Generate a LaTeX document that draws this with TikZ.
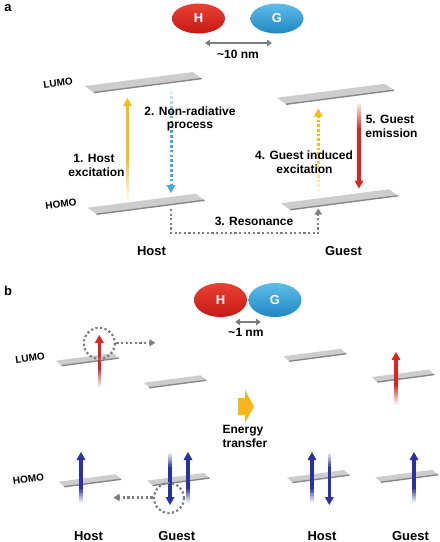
\documentclass[tikz,border=0pt]{standalone}
\usepackage{fontspec}
\setmainfont{Liberation Sans}
\usetikzlibrary{shapes.geometric,arrows.meta,calc}
\definecolor{platefill}{RGB}{205,205,205}
\definecolor{plateedge}{RGB}{135,135,135}
\definecolor{hyel}{RGB}{250,188,20}
\definecolor{lblue}{RGB}{70,170,220}
\definecolor{ered}{RGB}{225,35,30}
\definecolor{dblue}{RGB}{40,50,165}
\definecolor{dgray}{RGB}{125,125,125}
\definecolor{hred}{RGB}{195,25,20}
\definecolor{hredtop}{RGB}{235,65,52}
\definecolor{gblue}{RGB}{30,135,195}
\definecolor{gbluetop}{RGB}{95,188,232}
\definecolor{barrow}{RGB}{248,182,30}

\newcommand\myplate[7]{% name, cx, cy, lx, ly, sx, sy
  \coordinate (#1) at (#2,#3);
  \fill[platefill] ($(#1)-0.5*(#4,#5)-0.5*(#6,#7)$) -- ($(#1)+0.5*(#4,#5)-0.5*(#6,#7)$)
     -- ($(#1)+0.5*(#4,#5)+0.5*(#6,#7)$) -- ($(#1)-0.5*(#4,#5)+0.5*(#6,#7)$) -- cycle;
  \draw[plateedge, line width=1.4pt] ($(#1)-0.5*(#4,#5)+0.5*(#6,#7)$) -- ($(#1)+0.5*(#4,#5)+0.5*(#6,#7)$);
}
\newcommand\solidarrow[5]{% x, ytail, ytip, color, fade fraction
  \pgfmathsetmacro\myHB{#3+8*sign(#2-#3)}
  \foreach \i in {0,...,29}{
    \pgfmathsetmacro\myYA{#2+(\myHB-#2)*\i/30}
    \pgfmathsetmacro\myYB{#2+(\myHB-#2)*(\i+1.3)/30}
    \pgfmathsetmacro\myPP{min(100,(\i+0.5)/(30*#5)*100)}
    \fill[#4!\myPP!white] (#1-1.6,\myYA) rectangle (#1+1.6,\myYB);
  }
  \fill[#4] (#1,#3) -- (#1-4.5,\myHB) -- (#1+4.5,\myHB) -- cycle;
}
\newcommand\dotarrow[6]{% x, ytail, ytip, color, fade fraction, ndots
  \pgfmathsetmacro\myHB{#3+8*sign(#2-#3)}
  \foreach \i in {0,...,#6}{
    \pgfmathsetmacro\myYA{#2+(\myHB-#2)*\i/#6}
    \pgfmathsetmacro\myPP{min(100,(\i+0.5)/((#6+1)*#5)*100)}
    \fill[#4!\myPP!white] (#1-1.5,\myYA-1.3) rectangle (#1+1.5,\myYA+1.3);
  }
  \fill[#4] (#1,#3) -- (#1-4.5,\myHB) -- (#1+4.5,\myHB) -- cycle;
}

\tikzset{
  lab/.style={font=\fontsize{12}{14}\selectfont\bfseries, inner sep=0pt, anchor=base},
  big/.style={font=\fontsize{13}{15}\selectfont\bfseries, inner sep=0pt, anchor=base},
  orb/.style={font=\fontsize{10}{12}\selectfont\bfseries, inner sep=0pt, rotate=7},
  mol/.style={ellipse, inner sep=0pt, minimum width=53pt, minimum height=30pt,
     text=white, font=\fontsize{13}{15}\selectfont\bfseries},
  hmol/.style={mol, top color=hredtop, bottom color=hred},
  gmol/.style={mol, top color=gbluetop, bottom color=gblue},
  darr/.style={dgray, line width=1.5pt, {Triangle[length=5pt,width=6.5pt]}-{Triangle[length=5pt,width=6.5pt]}},
  graydot/.style={dgray, line width=2.2pt, dash pattern=on 2.2pt off 2.4pt},
  graytip/.style={-{Triangle[length=6pt,width=7pt]}}
}

\begin{document}
\begin{tikzpicture}[x=1pt,y=-1pt]
\fill[white] (0,0) rectangle (440,542);
\useasboundingbox (0,0) rectangle (440,542);

% ---------------- part a ----------------
\node[big] (la) at (8,11.5) {a};
\node[hmol] (Ha) at (198.5,18.5) {H};
\node[gmol] (Ga) at (277,18.5) {G};
\coordinate (da1) at (205,43);
\coordinate (da2) at (272,43);
\draw[darr] (da1) -- (da2);
\node[lab] (d10) at (238,58) {\char126 10 nm};

\myplate{hLa}{143.3}{82.3}{108}{-14}{9}{6.5}
\myplate{hHa}{146}{204}{108}{-14}{9}{6.5}
\myplate{gLa}{335.5}{94}{108}{-14}{9}{6.5}
\myplate{gHa}{339.5}{199.5}{108}{-14}{9}{6.5}

\node[orb] (lumoa) at (58,83) {LUMO};
\node[orb] (homoa) at (61,204) {HOMO};

\solidarrow{127.5}{202}{98}{hyel}{0.45}
\dotarrow{171}{88}{193}{lblue}{0.35}{20}
\dotarrow{318.3}{195}{108.5}{hyel}{0.5}{17}
\solidarrow{359}{101.5}{188.5}{ered}{0.35}

\coordinate (r1) at (171,209);
\coordinate (r2) at (318.3,208.5);
\draw[graydot, graytip] (r1) -- ++(0,24) -| (r2);

\node[lab] (t1a) at (94,162) {1. Host};
\node[lab] (t1b) at (96.5,176) {excitation};
\node[lab] (t2a) at (190,115) {2. Non-radiative};
\node[lab] (t2b) at (190,128.5) {process};
\node[lab] (t3) at (254,225.7) {3. Resonance};
\node[lab] (t4a) at (304,159) {4. Guest induced};
\node[lab] (t4b) at (304.5,173) {excitation};
\node[lab] (t5a) at (390,123) {5. Guest};
\node[lab] (t5b) at (391.5,137.5) {emission};
\node[big] (hosta) at (151.5,255) {Host};
\node[big] (guesta) at (343.5,255) {Guest};

% ---------------- part b ----------------
\node[big] (lb) at (8,295) {b};
\node[hmol, minimum height=34pt] (Hb) at (220.5,300) {H};
\node[gmol, minimum height=34pt] (Gb) at (275,300) {G};
\coordinate (db1) at (235,322);
\coordinate (db2) at (261,322);
\draw[darr] (db1) -- (db2);
\node[lab] (d1) at (246,336.7) {\char126 1 nm};

\myplate{hLb}{87.3}{359.4}{57}{-7.5}{5.5}{5}
\myplate{gLb}{175}{381.5}{57}{-7.5}{5.5}{5}
\myplate{hLc}{315}{355}{57}{-7.5}{5.5}{5}
\myplate{gLc}{403}{375.8}{57}{-7.5}{5.5}{5}
\myplate{hHb}{90}{480.5}{57}{-7.5}{5.5}{5}
\myplate{gHb}{178.3}{479.3}{57}{-7.5}{5.5}{5}
\myplate{hHc}{318.2}{476.3}{57}{-7.5}{5.5}{5}
\myplate{gHc}{406.7}{476}{57}{-7.5}{5.5}{5}

\node[orb] (lumob) at (30,358) {LUMO};
\node[orb] (homob) at (28.5,479) {HOMO};

\solidarrow{99.3}{388}{335}{ered}{0.45}
\solidarrow{81}{503}{452}{dblue}{0.35}
\solidarrow{170}{452}{505}{dblue}{0.35}
\solidarrow{188}{503}{452}{dblue}{0.35}
\solidarrow{312}{503}{452}{dblue}{0.35}
\solidarrow{329.3}{452}{505}{dblue}{0.35}
\solidarrow{414}{503}{452}{dblue}{0.35}
\solidarrow{396}{405}{352}{ered}{0.45}

\coordinate (c1) at (99.3,343.3);
\coordinate (c2) at (169,498);
\draw[graydot] (c1) circle (15.5);
\draw[graydot] (c2) circle (15);
\draw[graydot, graytip] ($(c1)+(17,-0.5)$) -- ++(39,0);
\draw[graydot, graytip] ($(c2)+(-16.5,-0.5)$) -- ++(-39,0);

\fill[barrow] (238,398) -- (245,398) -- (245,390) -- (254,406.5) -- (245,423) -- (245,415) -- (238,415) -- cycle;
\node[lab] (ena) at (243,433) {Energy};
\node[lab] (enb) at (245,447) {transfer};

\node[big] (hostb) at (88.5,540) {Host};
\node[big] (guestb) at (176.7,540) {Guest};
\node[big] (hostc) at (322,540) {Host};
\node[big] (guestc) at (410.5,540) {Guest};
\end{tikzpicture}
\end{document}
